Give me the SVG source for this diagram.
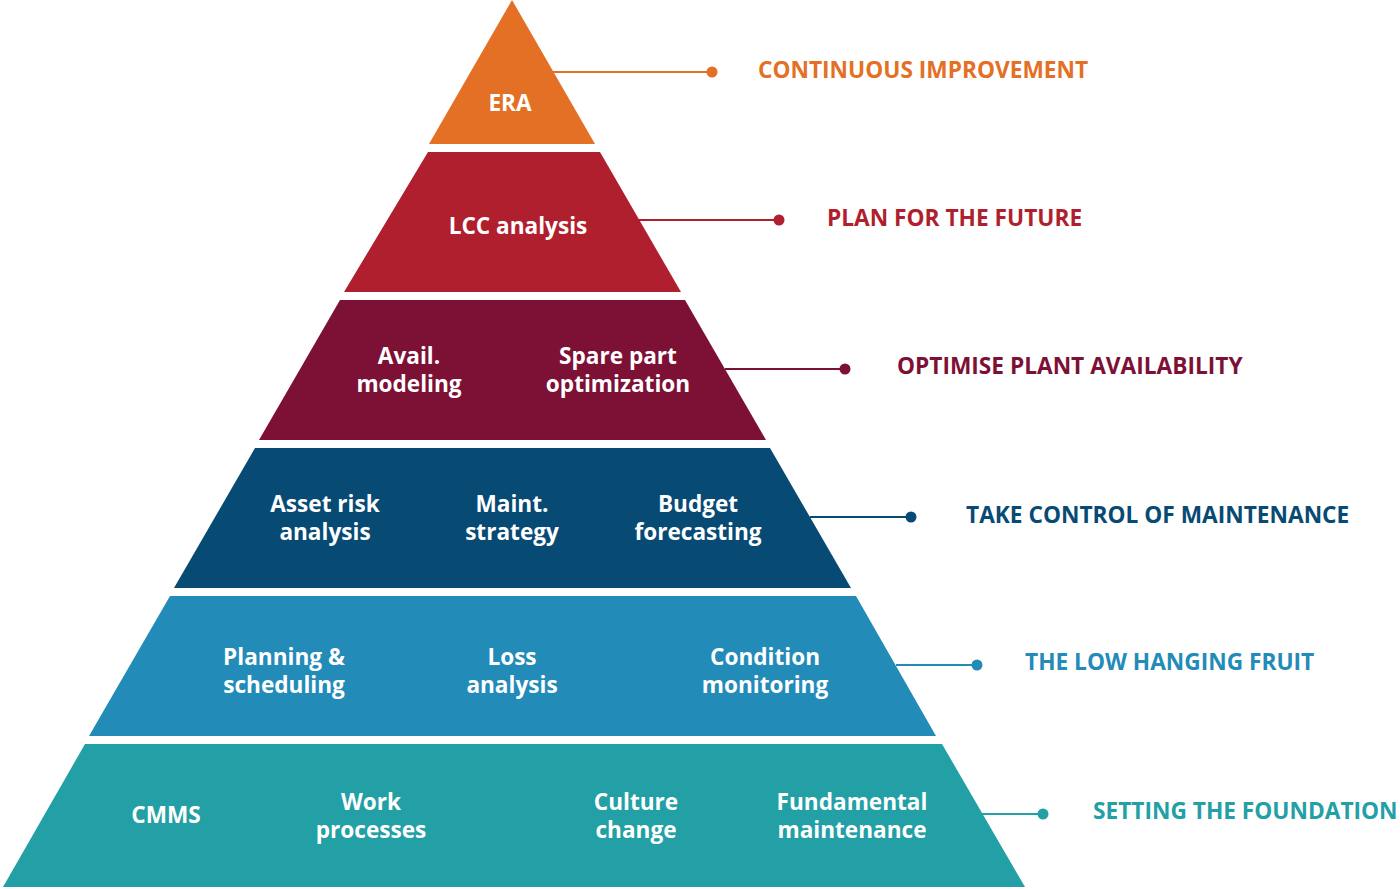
<svg xmlns="http://www.w3.org/2000/svg" width="1400" height="889" viewBox="0 0 1400 889">
<style>
.t{font-family:"Open Sans","Liberation Sans",sans-serif;font-weight:bold;font-size:22.6px;fill:#fff;text-anchor:middle}
.l{font-family:"Open Sans","Liberation Sans",sans-serif;font-weight:bold;font-size:22.7px}
</style>
<rect width="1400" height="889" fill="#fff"/>
<g id="level1"><polygon points="512,0 595,144 429,144" fill="#E37025"/><text class="t" x="510" y="111">ERA</text></g>
<g id="level2"><polygon points="428,152 600,152 681,292 344,292" fill="#B01F2E"/><text class="t" x="518" y="234">LCC analysis</text></g>
<g id="level3"><polygon points="340,300 685,300 766,440 259,440" fill="#7D1035"/><text class="t" x="409" y="364">Avail.</text><text class="t" x="409" y="392">modeling</text><text class="t" x="618" y="364">Spare part</text><text class="t" x="618" y="392">optimization</text></g>
<g id="level4"><polygon points="255,448 770,448 851,588 174,588" fill="#074A73"/><text class="t" x="325" y="512">Asset risk</text><text class="t" x="325" y="540">analysis</text><text class="t" x="512" y="512">Maint.</text><text class="t" x="512" y="540">strategy</text><text class="t" x="698" y="512">Budget</text><text class="t" x="698" y="540">forecasting</text></g>
<g id="level5"><polygon points="170,596 856,596 936,736 89,736" fill="#238BB8"/><text class="t" x="284" y="665">Planning &amp;</text><text class="t" x="284" y="693">scheduling</text><text class="t" x="512" y="665">Loss</text><text class="t" x="512" y="693">analysis</text><text class="t" x="765" y="665">Condition</text><text class="t" x="765" y="693">monitoring</text></g>
<g id="level6"><polygon points="85,744 942,744 1025,887 3,887" fill="#22A0A6"/><text class="t" x="166" y="823">CMMS</text><text class="t" x="371" y="810">Work</text><text class="t" x="371" y="838">processes</text><text class="t" x="636" y="810">Culture</text><text class="t" x="636" y="838">change</text><text class="t" x="852" y="810">Fundamental</text><text class="t" x="852" y="838">maintenance</text></g>
<g id="connectors" stroke-width="2">
<line x1="553" y1="72" x2="712" y2="72" stroke="#E37025"/><circle cx="712" cy="72" r="5.5" fill="#E37025"/>
<line x1="638" y1="220" x2="779" y2="220" stroke="#B01F2E"/><circle cx="779" cy="220" r="5.5" fill="#B01F2E"/>
<line x1="725" y1="369" x2="845" y2="369" stroke="#7D1035"/><circle cx="845" cy="369" r="5.5" fill="#7D1035"/>
<line x1="810" y1="517" x2="911" y2="517" stroke="#074A73"/><circle cx="911" cy="517" r="5.5" fill="#074A73"/>
<line x1="896" y1="665" x2="977" y2="665" stroke="#238BB8"/><circle cx="977" cy="665" r="5.5" fill="#238BB8"/>
<line x1="982" y1="814" x2="1043" y2="814" stroke="#22A0A6"/><circle cx="1043" cy="814" r="5.5" fill="#22A0A6"/>
</g>
<g id="labels">
<text class="l" x="758" y="78" fill="#E37025">CONTINUOUS IMPROVEMENT</text>
<text class="l" x="827" y="226" fill="#B01F2E">PLAN FOR THE FUTURE</text>
<text class="l" x="897" y="374" fill="#7D1035">OPTIMISE PLANT AVAILABILITY</text>
<text class="l" x="966" y="523" fill="#074A73">TAKE CONTROL OF MAINTENANCE</text>
<text class="l" x="1025" y="670" fill="#238BB8">THE LOW HANGING FRUIT</text>
<text class="l" x="1093" y="819" fill="#22A0A6">SETTING THE FOUNDATION</text>
</g>
</svg>
